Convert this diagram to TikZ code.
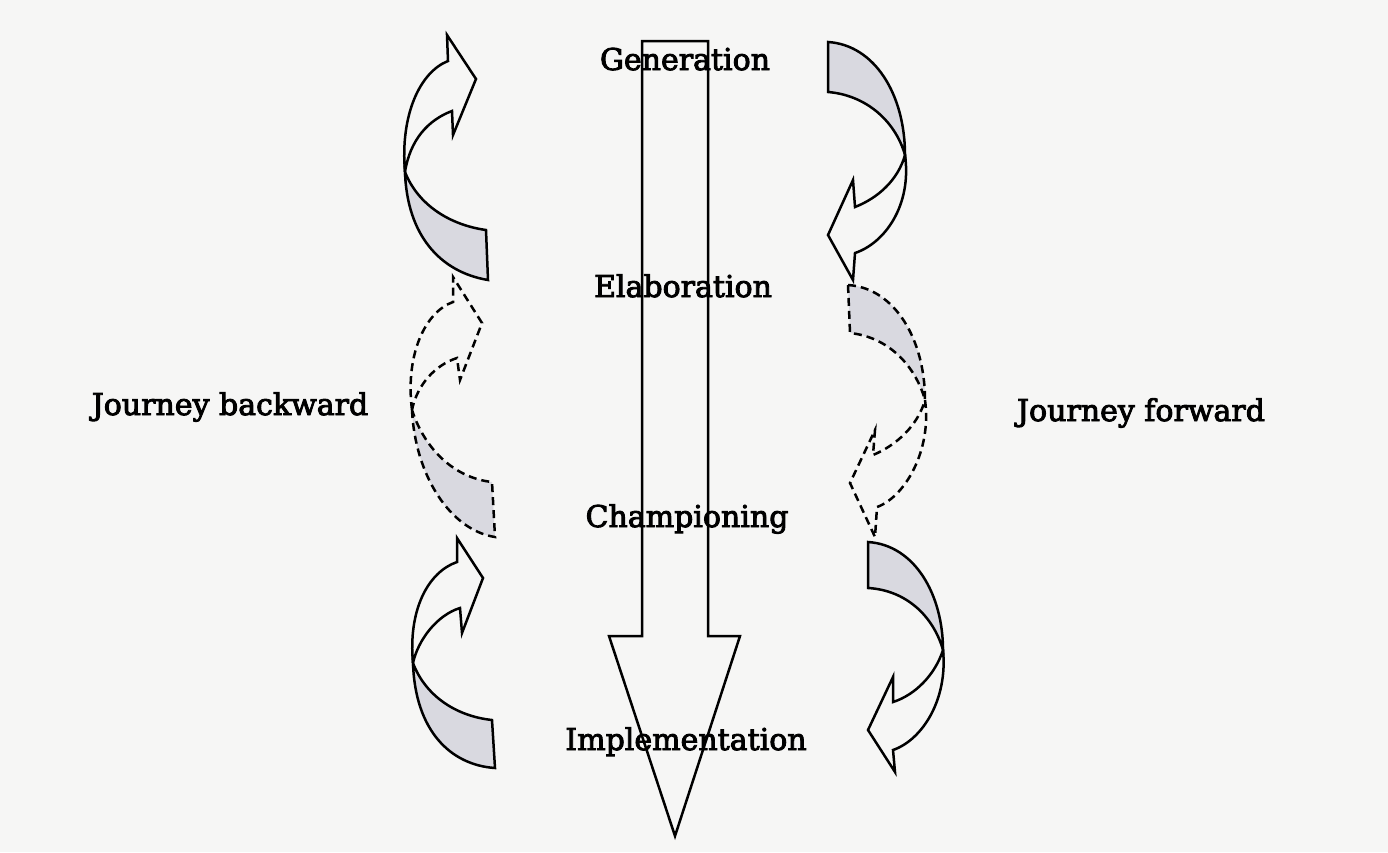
\documentclass[tikz,border=0pt]{standalone}
\usepackage{fontspec}
\setmainfont{DejaVu Serif}[FakeBold=3]
\definecolor{paper}{rgb}{0.965,0.965,0.96}
\definecolor{bandgrey}{rgb}{0.85,0.85,0.88}
\tikzset{
  outline/.style={draw=black, line width=2.5pt, line join=miter},
  band/.style={outline, fill=bandgrey},
  dashedline/.style={dash pattern=on 8pt off 5pt, line width=2.5pt},
  label/.style={anchor=base, inner sep=0pt, font=\fontsize{30}{36}\selectfont},
}
\begin{document}
\begin{tikzpicture}[x=1pt,y=-1pt]
\fill[paper] (0,0) rectangle (1388,852);
\useasboundingbox (0,0) rectangle (1388,852);

% main downward arrow
\draw[outline] (642,41) -- (708,41) -- (708,636) -- (740,636) -- (675,836) -- (609,636) -- (642,636) -- cycle;

% ---- left arrows (journey backward) ----
% top left
\draw[band] (405,172) .. controls (407,235) and (440,272) .. (488,280)
  -- (486,230) .. controls (450,225) and (418,205) .. (405,172) -- cycle;
\draw[outline] (405,172) .. controls (400,115) and (420,72) .. (448,61)
  -- (447,35) -- (476,79) -- (453,135) -- (452,111)
  .. controls (428,120) and (410,140) .. (405,172) -- cycle;
% middle left (dashed)
\draw[band,dashedline] (412,410) .. controls (415,475) and (450,530) .. (495,537)
  -- (492,482) .. controls (455,478) and (425,450) .. (412,410) -- cycle;
\draw[outline,dashedline] (412,410) .. controls (405,355) and (425,312) .. (453,302)
  -- (453,277) -- (482,323) -- (460,380) -- (457,358)
  .. controls (435,365) and (417,385) .. (412,410) -- cycle;
% bottom left
\draw[band] (413,663) .. controls (415,730) and (450,765) .. (495,768)
  -- (492,720) .. controls (455,716) and (425,695) .. (413,663) -- cycle;
\draw[outline] (413,663) .. controls (408,610) and (428,572) .. (457,562)
  -- (457,538) -- (483,578) -- (462,633) -- (460,608)
  .. controls (437,615) and (418,640) .. (413,663) -- cycle;

% ---- right arrows (journey forward) ----
% top right
\draw[band] (828,42) .. controls (875,45) and (905,95) .. (905,155)
  .. controls (895,120) and (865,95) .. (828,92) -- cycle;
\draw[outline] (905,155) .. controls (912,205) and (885,243) .. (855,253)
  -- (853,280) -- (828,235) -- (853,180) -- (855,207)
  .. controls (878,198) and (898,180) .. (905,155) -- cycle;
% middle right (dashed)
\draw[band,dashedline] (848,285) .. controls (895,288) and (925,340) .. (925,400)
  .. controls (915,365) and (888,337) .. (850,333) -- cycle;
\draw[outline,dashedline] (925,400) .. controls (932,450) and (905,497) .. (877,507)
  -- (875,537) -- (850,483) -- (875,430) -- (873,455)
  .. controls (897,445) and (918,425) .. (925,400) -- cycle;
% bottom right
\draw[band] (868,542) .. controls (915,545) and (943,595) .. (943,650)
  .. controls (933,615) and (905,590) .. (868,588) -- cycle;
\draw[outline] (943,650) .. controls (948,700) and (922,740) .. (893,750)
  -- (895,772) -- (868,730) -- (893,677) -- (893,702)
  .. controls (915,695) and (935,675) .. (943,650) -- cycle;

% labels
\node[label] (gen) at (685,70) {Generation};
\node[label] (ela) at (683,297) {Elaboration};
\node[label] (cha) at (687,527) {Championing};
\node[label] (imp) at (686,750) {Implementation};
\node[label] (back) at (230,415) {Journey backward};
\node[label] (fwd) at (1141,421) {Journey forward};
\end{tikzpicture}
\end{document}
